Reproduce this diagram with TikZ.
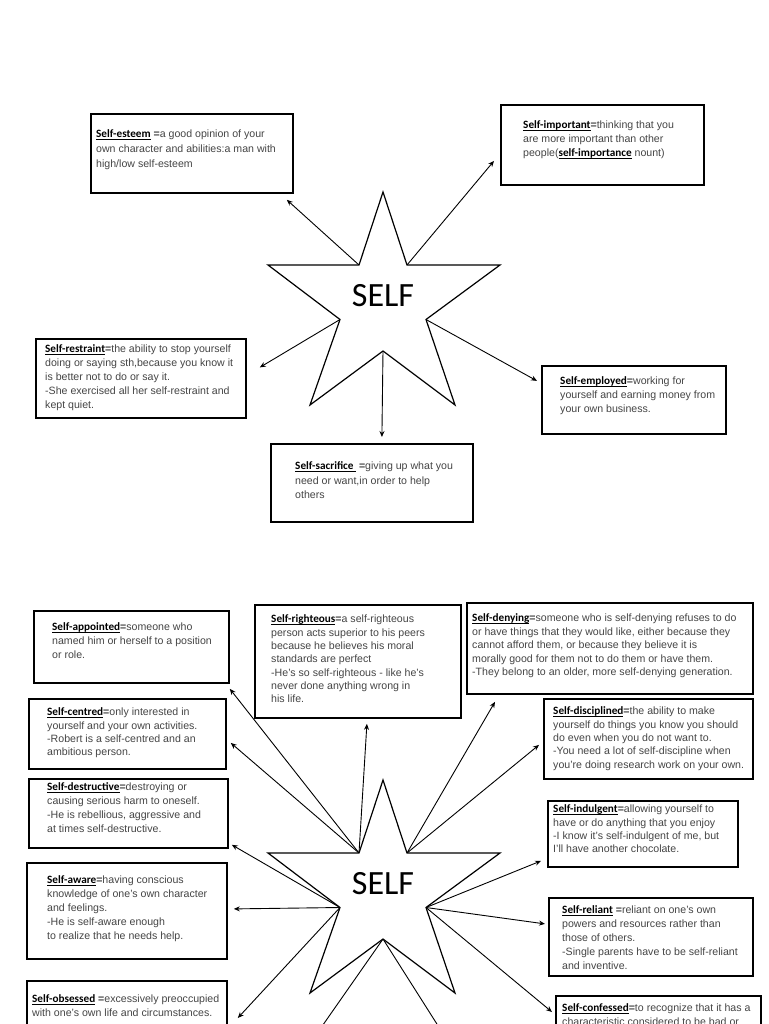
\documentclass[tikz,border=0pt]{standalone}
\usepackage{fontspec}
\setmainfont{Liberation Sans}
\newfontfamily\headfont{Carlito}
\usetikzlibrary{arrows.meta}
\definecolor{bodygrey}{HTML}{454545}
\newcommand\hw[1]{{\headfont\fontsize{11.2}{11.2}\selectfont\bfseries\color{black}\underline{\smash{#1}}}}
\newcommand\eq{{\bfseries=}}
\begin{document}
\begin{tikzpicture}[x=1pt,y=-1pt,
  box/.style={draw=black, line width=1.8pt, inner sep=0pt, anchor=north west},
  txt/.style={anchor=north west, inner sep=0pt, align=left, text=bodygrey, font=\fontsize{10.6}{13.8}\selectfont},
  arr/.style={-{Stealth[length=6pt,width=5pt]}, line width=0.9pt},
  starshape/.style={draw=black, line width=1.2pt, fill=white},
  selftext/.style={font=\headfont\fontsize{34}{34}\selectfont, inner sep=0pt}]
\useasboundingbox (0,0) rectangle (768,1024);
\fill[white] (0,0) rectangle (768,1024);

% ---------- top star coordinates
\coordinate (a1) at (383,192);
\coordinate (a-ur) at (407,265);
\coordinate (a2) at (500,265);
\coordinate (a-r) at (426,319.5);
\coordinate (a3) at (455,405);
\coordinate (a-b) at (383,351);
\coordinate (a4) at (310,405);
\coordinate (a-l) at (340,319.5);
\coordinate (a5) at (268,265);
\coordinate (a-ul) at (359,265);

% ---------- bottom star coordinates
\coordinate (b1) at (383,780);
\coordinate (b-ur) at (407,853);
\coordinate (b2) at (500,853);
\coordinate (b-r) at (426,907.5);
\coordinate (b3) at (455,993);
\coordinate (b-b) at (383,939);
\coordinate (b4) at (310,993);
\coordinate (b-l) at (340,907.5);
\coordinate (b5) at (268,853);
\coordinate (b-ul) at (359,853);
\coordinate (off1) at (318,1032);
\coordinate (off2) at (442,1032);

% ---------- top boxes
\node[box, minimum width=202pt, minimum height=79pt] (esteem) at (90,113) {};
\node[txt, font=\fontsize{10.6}{15}\selectfont] (esteem-t) at (96,130) {\hw{Self-esteem} \eq a good opinion of your\\own character and abilities:a man with\\high/low self-esteem};

\node[box, minimum width=203pt, minimum height=80pt] (important) at (500,104) {};
\node[txt] (important-t) at (523,121) {\hw{Self-important}\eq thinking that you\\are more important than other\\people(\hw{self-importance} nount)};

\node[box, minimum width=210pt, minimum height=79pt] (restraint) at (35,338) {};
\node[txt] (restraint-t) at (45,345) {\hw{Self-restraint}\eq the ability to stop yourself\\doing or saying sth,because you know it\\is better not to do or say it.\\-She exercised all her self-restraint and\\kept quiet.};

\node[box, minimum width=184pt, minimum height=68pt] (employed) at (541,365) {};
\node[txt] (employed-t) at (560,377) {\hw{Self-employed}\eq working for\\yourself and earning money from\\your own business.};

\node[box, minimum width=202pt, minimum height=78pt] (sacrifice) at (270,443) {};
\node[txt, font=\fontsize{10.6}{14.5}\selectfont] (sacrifice-t) at (295,462) {\hw{Self-sacrifice\ }\ \eq giving up what you\\need or want,in order to help\\others};

% ---------- bottom boxes
\node[box, minimum width=195pt, minimum height=72pt] (appointed) at (33,610) {};
\node[txt] (appointed-t) at (52,623) {\hw{Self-appointed}\eq someone who\\named him or herself to a position\\or role.};

\node[box, minimum width=206pt, minimum height=113pt] (righteous) at (254,604) {};
\node[txt, font=\fontsize{10.6}{13.3}\selectfont] (righteous-t) at (271,615) {\hw{Self-righteous}\eq a self-righteous\\person acts superior to his peers\\because he believes his moral\\standards are perfect\\-He's so self-righteous - like he's\\never done anything wrong in\\his life.};

\node[box, minimum width=286pt, minimum height=91pt] (denying) at (466,602) {};
\node[txt, font=\fontsize{10.6}{13.5}\selectfont] (denying-t) at (472,614) {\hw{Self-denying}\eq someone who is self-denying refuses to do\\or have things that they would like, either because they\\cannot afford them, or because they believe it is\\morally good for them not to do them or have them.\\-They belong to an older, more self-denying generation.};

\node[box, minimum width=197pt, minimum height=70pt] (centred) at (28,698) {};
\node[txt, font=\fontsize{10.6}{13.3}\selectfont] (centred-t) at (47,708) {\hw{Self-centred}\eq only interested in\\yourself and your own activities.\\-Robert is a self-centred and an\\ambitious person.};

\node[box, minimum width=209pt, minimum height=80pt] (disciplined) at (543,698) {};
\node[txt, font=\fontsize{10.6}{13.3}\selectfont] (disciplined-t) at (553,707) {\hw{Self-disciplined}\eq the ability to make\\yourself do things you know you should\\do even when you do not want to.\\-You need a lot of self-discipline when\\you're doing research work on your own.};

\node[box, minimum width=199pt, minimum height=69pt] (destructive) at (28,778) {};
\node[txt] (destructive-t) at (47,783) {\hw{Self-destructive}\eq destroying or\\causing serious harm to oneself.\\-He is rebellious, aggressive and\\at times self-destructive.};

\node[box, minimum width=190pt, minimum height=66pt] (indulgent) at (547,800) {};
\node[txt, font=\fontsize{10.6}{13.3}\selectfont] (indulgent-t) at (553,805) {\hw{Self-indulgent}\eq allowing yourself to\\have or do anything that you enjoy\\-I know it's self-indulgent of me, but\\I'll have another chocolate.};

\node[box, minimum width=200pt, minimum height=96pt] (aware) at (26,862) {};
\node[txt] (aware-t) at (47,876) {\hw{Self-aware}\eq having conscious\\knowledge of one's own character\\and feelings.\\-He is self-aware enough\\to realize that he needs help.};

\node[box, minimum width=204pt, minimum height=78pt] (reliant) at (548,897) {};
\node[txt] (reliant-t) at (562,906) {\hw{Self-reliant} \eq reliant on one's own\\powers and resources rather than\\those of others.\\-Single parents have to be self-reliant\\and inventive.};

\node[box, minimum width=200pt, minimum height=80pt] (obsessed) at (26,980) {};
\node[txt] (obsessed-t) at (32,995) {\hw{Self-obsessed} \eq excessively preoccupied\\with one's own life and circumstances.};

\node[box, minimum width=205pt, minimum height=80pt] (confessed) at (555,995) {};
\node[txt] (confessed-t) at (562,1004) {\hw{Self-confessed}\eq to recognize that it has a\\characteristic considered to be bad or};

% ---------- top connectors
\draw[arr] (a-ul) -- ([shift={(-7,6)}]esteem.south east);
\draw[arr] (a-ur) -- ([shift={(-6,16)}]important.west);
\draw[arr] (a-l) -- ([shift={(13,-11)}]restraint.east);
\draw[arr] (a-r) -- ([shift={(-4,-19)}]employed.west);
\draw[arr] (a-b) -- ([shift={(10,-6)}]sacrifice.north);

% ---------- bottom connectors
\draw[arr] (b-ul) -- ([shift={(0,5)}]appointed.south east);
\draw[arr] (b-ul) -- ([shift={(4,9)}]centred.east);
\draw[arr] (b-ul) -- ([shift={(9,5)}]righteous.south);
\draw[arr] (b-ur) -- ([shift={(29,7)}]denying.south west);
\draw[arr] (b-ur) -- ([shift={(-4,6)}]disciplined.west);
\draw[arr] (b-l) -- ([shift={(3,-4)}]destructive.south east);
\draw[arr] (b-l) -- ([shift={(6,-2)}]aware.east);
\draw[arr] (b-l) -- ([shift={(10,38)}]obsessed.north east);
\draw[arr] (b-r) -- ([shift={(-6,27)}]indulgent.west);
\draw[arr] (b-r) -- ([shift={(-3,-13)}]reliant.west);
\draw[arr] (b-r) -- ([shift={(-3,17)}]confessed.north west);
\draw[line width=0.9pt] (b-b) -- (off1);
\draw[line width=0.9pt] (b-b) -- (off2);

% ---------- stars
\draw[starshape] (a1) -- (a-ur) -- (a2) -- (a-r) -- (a3) -- (a-b) -- (a4) -- (a-l) -- (a5) -- (a-ul) -- cycle;
\node[selftext] (self1) at (383,296) {SELF};
\draw[starshape] (b1) -- (b-ur) -- (b2) -- (b-r) -- (b3) -- (b-b) -- (b4) -- (b-l) -- (b5) -- (b-ul) -- cycle;
\node[selftext] (self2) at (383,884) {SELF};
\end{tikzpicture}
\end{document}
